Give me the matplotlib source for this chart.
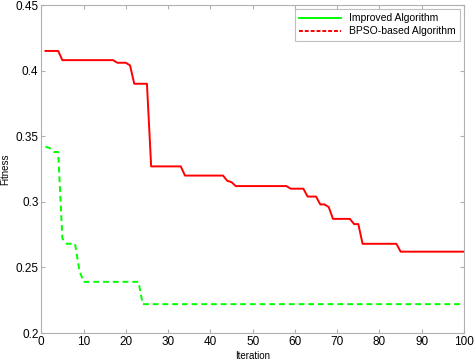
import matplotlib.pyplot as plt
from matplotlib.lines import Line2D

# breakpoints of the two convergence curves (iteration, fitness)
bpso_iter = [1, 4, 5, 17, 18, 20, 21, 22, 25, 26, 33, 34, 43, 44, 45, 46, 58, 59, 62,
             63, 65, 66, 67, 68, 69, 73, 74, 75, 76, 84, 85, 100]
bpso_fit = [0.415, 0.415, 0.408, 0.408, 0.406, 0.406, 0.404, 0.390, 0.390, 0.327, 0.327,
            0.320, 0.320, 0.316, 0.315, 0.312, 0.312, 0.310, 0.310, 0.304, 0.304, 0.298,
            0.298, 0.296, 0.287, 0.287, 0.283, 0.283, 0.268, 0.268, 0.262, 0.262]

impr_iter = [1, 2, 3, 4, 5, 6, 8, 9, 10, 23, 24, 100]
impr_fit = [0.342, 0.341, 0.338, 0.338, 0.272, 0.268, 0.268, 0.248, 0.239, 0.239, 0.222, 0.222]

plt.rcParams['font.family'] = ['Liberation Sans', 'DejaVu Sans']

fig = plt.figure(figsize=(4.74, 3.6), dpi=100)
ax = fig.add_axes([0.087, 0.075, 0.892, 0.911])

ax.plot(bpso_iter, bpso_fit, color='#ff0000', lw=1.4)
ax.plot(impr_iter, impr_fit, color='#00ff00', lw=1.4, ls=(0, (3, 2)))

ax.set_xlim(0, 100)
ax.set_ylim(0.2, 0.45)
ax.set_xticks(range(0, 101, 10))
ax.set_yticks([0.2, 0.25, 0.3, 0.35, 0.4, 0.45])
ax.set_yticklabels(['0.2', '0.25', '0.3', '0.35', '0.4', '0.45'])
ax.tick_params(direction='in', top=True, right=True, labelsize=8.5, length=3,
               color='#b0b0b0', pad=2)
for s in ax.spines.values():
    s.set_color('#b0b0b0')
    s.set_linewidth(0.8)

ax.set_xlabel('Iteration', fontsize=7, labelpad=2)
ax.set_ylabel('Fitness', fontsize=7, labelpad=4)

# legend as it appears in the original figure
handles = [Line2D([], [], color='#00ff00', lw=1.4),
           Line2D([], [], color='#ff0000', lw=1.4, ls=(0, (2, 1)))]
leg = ax.legend(handles, ['Improved Algorithm', 'BPSO-based Algorithm'], loc='upper right',
                fontsize=7.5, frameon=True, fancybox=False, edgecolor='#b0b0b0',
                handlelength=4, borderaxespad=0.4, labelspacing=0.3, borderpad=0.4)
leg.get_frame().set_linewidth(0.8)

fig.savefig('out.png', dpi=100)
